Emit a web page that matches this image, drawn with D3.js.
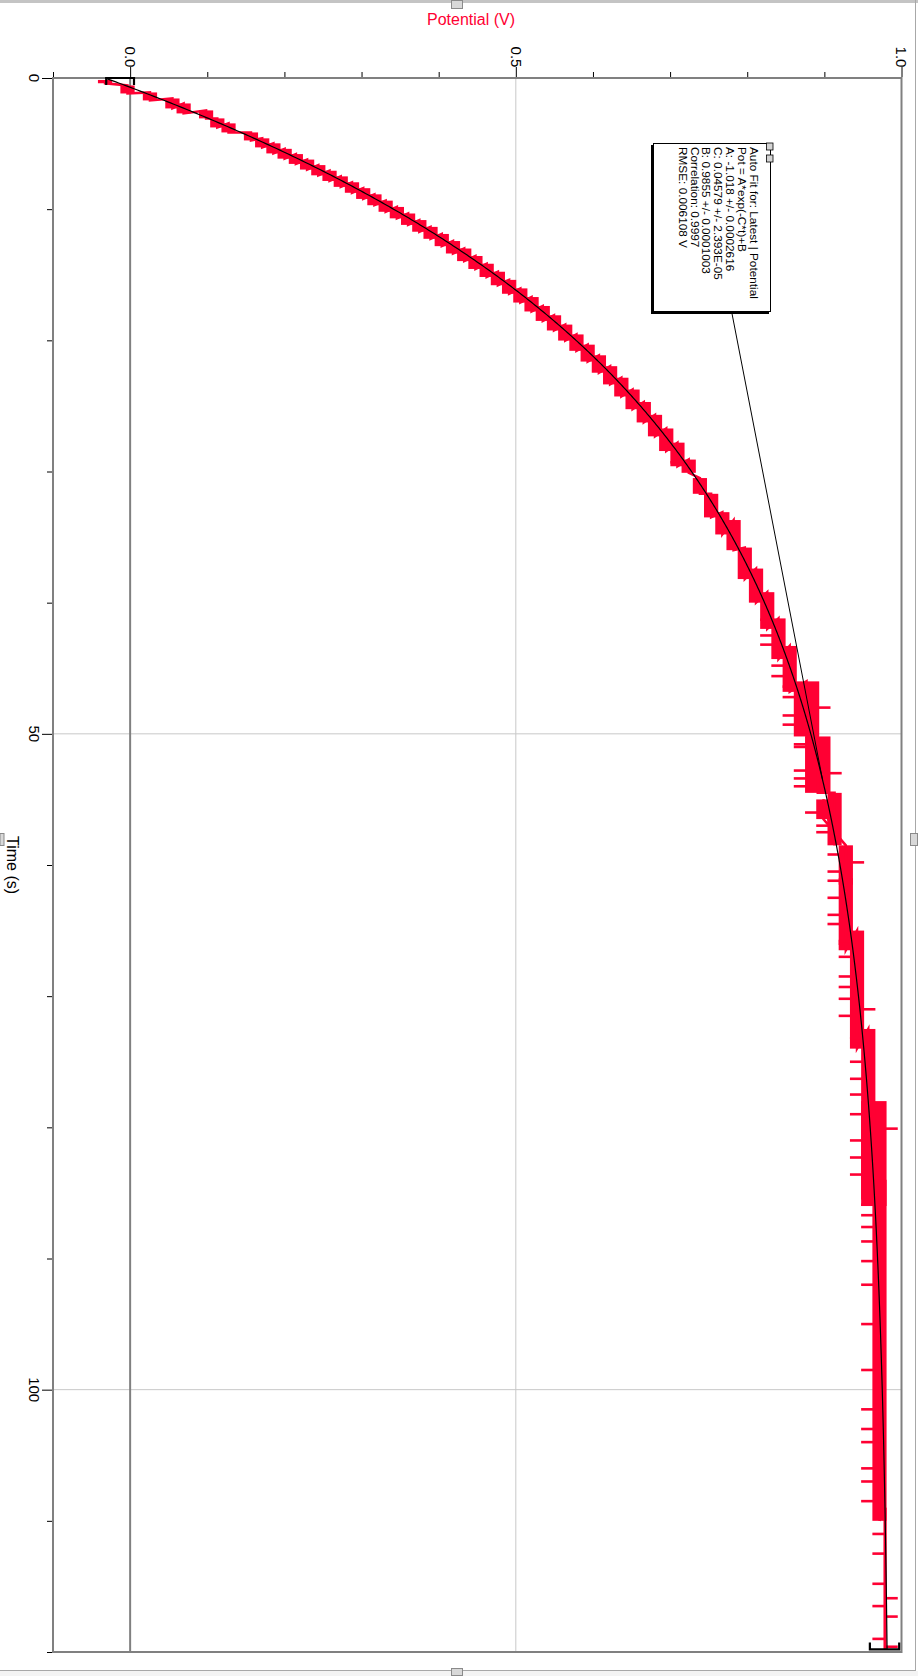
<!DOCTYPE html>
<html><head><meta charset="utf-8">
<script src="https://cdn.jsdelivr.net/npm/d3@7"></script>
<style>
body{margin:0;background:#fff}
svg{display:block}
text{font-family:"Liberation Sans",Arial,sans-serif}
</style></head>
<body><svg id="chart" width="918" height="1676"></svg>
<script>
// ---------------- data ----------------
const potentialTicks = [-0.1,0,0.1,0.2,0.3,0.4,0.5,0.6,0.7,0.8,0.9,1.0];
const potentialLabelValues = [0, 0.5, 1.0];
const potentialLabels = ["0.0", "0.5", "1.0"];
const timeTicks = [0,10,20,30,40,50,60,70,80,90,100,110,120];
const timeLabelValues = [0, 50, 100];
const timeLabels = ["0", "50", "100"];

// Recorded potential: quantised plateaus (time from, time to, low level, high level)
const blockStart = [0.15,0.57,1.10,1.56,1.94,2.47,3.08,3.46,4.15,4.60,4.98,5.40,5.80,6.22,6.64,7.07,7.50,7.95,8.40,8.87,9.35,9.83,10.33,10.83,11.35,11.89,12.43,13.00,13.57,14.16,14.77,15.39,16.04,16.70,17.38,18.09,18.80,19.55,20.33,21.14,21.97,22.85,23.75,24.70,25.68,26.72,27.80,29.09,30.50,31.70,33.10,33.70,35.80,37.40,39.20,41.20,43.30,46.00,50.20,54.50,55.00,58.50,61.00,65.00,72.50,78.00,84.00,109.0];
const blockEnd   = [0.40,1.18,1.71,2.32,2.70,3.08,3.77,4.15,4.76,5.29,5.75,6.15,6.55,6.98,7.42,7.85,8.30,8.75,9.22,9.70,10.20,10.70,11.20,11.72,12.26,12.82,13.38,13.96,14.56,15.17,15.80,16.45,17.12,17.80,18.52,19.25,20.02,20.80,21.62,22.47,23.36,24.28,25.25,26.26,27.32,28.44,29.60,30.10,31.70,33.50,34.80,36.00,38.20,40.00,42.00,44.30,46.80,50.20,54.50,58.50,56.50,61.50,66.50,74.00,85.50,86.00,110.0,119.8];
const blockLow   = [-0.0398,-0.0107,0.0184,0.0475,0.0621,0.0912,0.1057,0.1203,0.1494,0.1639,0.1785,0.1930,0.2076,0.2221,0.2367,0.2512,0.2658,0.2803,0.2949,0.3094,0.3240,0.3385,0.3531,0.3676,0.3822,0.3967,0.4113,0.4258,0.4404,0.4549,0.4695,0.4840,0.4986,0.5131,0.5277,0.5422,0.5568,0.5713,0.5859,0.6004,0.6150,0.6295,0.6441,0.6586,0.6732,0.6877,0.7023,0.7168,0.7314,0.7459,0.7605,0.7750,0.7896,0.8041,0.8187,0.8332,0.8478,0.8623,0.8769,0.9060,0.8914,0.9205,0.9205,0.9351,0.9496,0.9496,0.9642,0.9787];
const blockHigh  = [-0.0253,0.0039,0.0330,0.0621,0.0766,0.1057,0.1203,0.1348,0.1639,0.1785,0.1930,0.2076,0.2221,0.2367,0.2512,0.2658,0.2803,0.2949,0.3094,0.3240,0.3385,0.3531,0.3676,0.3822,0.3967,0.4113,0.4258,0.4404,0.4549,0.4695,0.4840,0.4986,0.5131,0.5277,0.5422,0.5568,0.5713,0.5859,0.6004,0.6150,0.6295,0.6441,0.6586,0.6732,0.6877,0.7023,0.7168,0.7314,0.7459,0.7605,0.7750,0.7896,0.8041,0.8187,0.8332,0.8478,0.8623,0.8914,0.9060,0.9205,0.9060,0.9351,0.9351,0.9496,0.9642,0.9787,0.9787,0.9787];

// Single-sample excursions (time, from level, to level)
const spikeT    = [29.3,41.3,42.5,43.2,44.8,45.6,46.4,47.2,48.0,48.6,49.3,50.8,51.0,52.8,53.0,53.4,54.0,56.0,57.0,57.5,59.2,59.8,60.5,61.2,62.5,63.8,64.5,65.8,66.0,67.0,68.5,69.3,70.2,71.0,71.5,73.2,75.0,76.3,77.5,79.0,80.1,81.0,82.3,83.6,85.9,86.7,87.6,88.7,90.2,92.0,95.0,98.5,101.5,103.0,104.0,106.0,107.0,108.5,111.0,112.5,114.8,115.9,116.5,117.3,119.0,119.6];
const spikeFrom = [0.7168,0.8332,0.8332,0.8332,0.8478,0.8478,0.8623,0.8623,0.8914,0.8623,0.8623,0.8769,0.8769,0.8769,0.9060,0.8769,0.8769,0.8914,0.9060,0.9060,0.9205,0.9351,0.9205,0.9205,0.9205,0.9205,0.9205,0.9351,0.9351,0.9351,0.9351,0.9351,0.9351,0.9496,0.9351,0.9496,0.9496,0.9496,0.9496,0.9496,0.9787,0.9496,0.9496,0.9496,0.9642,0.9642,0.9642,0.9642,0.9642,0.9642,0.9642,0.9642,0.9642,0.9642,0.9642,0.9642,0.9642,0.9642,0.9787,0.9787,0.9787,0.9787,0.9787,0.9787,0.9787,0.9787];
const spikeTo   = [0.7023,0.8187,0.8187,0.8187,0.8332,0.8332,0.8478,0.8478,0.9060,0.8478,0.8478,0.8623,0.8623,0.8623,0.9205,0.8623,0.8623,0.8769,0.8914,0.8914,0.9060,0.9496,0.9060,0.9060,0.9060,0.9060,0.9060,0.9205,0.9205,0.9205,0.9205,0.9205,0.9205,0.9642,0.9205,0.9351,0.9351,0.9351,0.9351,0.9351,0.9932,0.9351,0.9351,0.9351,0.9496,0.9496,0.9496,0.9496,0.9496,0.9496,0.9496,0.9496,0.9496,0.9496,0.9496,0.9496,0.9496,0.9496,0.9642,0.9642,0.9642,0.9932,0.9642,0.9932,0.9642,0.9932];

// Curve fit reported in the annotation: Pot = A*exp(-C*t)+B
const fitA = -1.018, fitB = 0.9855, fitC = 0.04579;
const fitRange = [0, 119.8];
const annotAnchorT = 53.5;
const annotLines = [
  "Auto Fit for: Latest | Potential",
  "Pot = A*exp(-C*t)+B",
  "A: -1.018 +/- 0.0002616",
  "C: 0.04579 +/- 2.393E-05",
  "B: 0.9855 +/- 0.0001003",
  "Correlation: 0.9997",
  "RMSE: 0.006108 V"
];
const annotBaselines = [749.5, 737.7, 725.9, 714.1, 702.3, 690.5, 678.7];

// ---------------- drawing ----------------
const svg = d3.select("#chart");
const red = "#ff0033";
const frame = {left: 53, right: 901.5, top: 78, bottom: 1652};
const x = d3.scaleLinear().domain([-0.1, 1.0]).range([frame.left, frame.right]);
const y = d3.scaleLinear().domain([0, 120]).range([frame.top, frame.bottom]);

// window chrome
svg.append("rect").attr("x",0).attr("y",0).attr("width",918).attr("height",3).attr("fill","#c4c4c4");
svg.append("line").attr("x1",915.5).attr("x2",915.5).attr("y1",0).attr("y2",1671).attr("stroke","#a8a8a8");
svg.append("line").attr("x1",0).attr("x2",916).attr("y1",1670.5).attr("y2",1670.5).attr("stroke","#a8a8a8");
svg.append("rect").attr("x",0).attr("y",1671).attr("width",918).attr("height",5).attr("fill","#f4f4f4");
[[451.5,0.5,11,8],[451.5,1668.5,11,7],[0,833.5,4,12],[910.5,833.5,7,12]].forEach(r=>{
  svg.append("rect").attr("x",r[0]).attr("y",r[1]).attr("width",r[2]).attr("height",r[3])
    .attr("fill","#d8d8d8").attr("stroke","#8a8a8a");
});

// grid lines
const g = svg.append("g");
g.append("line").attr("x1",x(0.5)).attr("x2",x(0.5)).attr("y1",frame.top).attr("y2",frame.bottom).attr("stroke","#c8c8c8");
[50,100].forEach(t=>g.append("line").attr("x1",frame.left).attr("x2",frame.right).attr("y1",y(t)).attr("y2",y(t)).attr("stroke","#c8c8c8"));
// zero line
g.append("line").attr("x1",x(0)).attr("x2",x(0)).attr("y1",frame.top).attr("y2",frame.bottom).attr("stroke","#808080").attr("stroke-width",2);

// frame
g.append("rect").attr("x",frame.left).attr("y",frame.top).attr("width",frame.right-frame.left).attr("height",frame.bottom-frame.top)
  .attr("fill","none").attr("stroke","#808080").attr("stroke-width",2);

// top axis (potential)
const topAxis = d3.axisTop(x).tickValues(potentialTicks).tickSize(5).tickFormat("");
const ta = svg.append("g").attr("transform",`translate(0,${frame.top-1})`).call(topAxis);
ta.select(".domain").remove();
ta.selectAll(".tick line").attr("stroke","#000").attr("y2", d => potentialLabelValues.includes(d) ? -10 : -5);
potentialLabelValues.forEach((v,i)=>{
  svg.append("text").attr("transform",`translate(${x(v)},57) rotate(90)`).attr("text-anchor","middle")
    .attr("dy","0.35em").attr("font-size",15).attr("fill","#000").text(potentialLabels[i]);
});

// left axis (time)
const leftAxis = d3.axisLeft(y).tickValues(timeTicks).tickSize(5).tickFormat("");
const la = svg.append("g").attr("transform",`translate(${frame.left-1},0)`).call(leftAxis);
la.select(".domain").remove();
la.selectAll(".tick line").attr("stroke","#000").attr("x2", d => timeLabelValues.includes(d) ? -10 : -5);
timeLabelValues.forEach((t,i)=>{
  svg.append("text").attr("transform",`translate(34,${y(t)}) rotate(90)`).attr("text-anchor","middle")
    .attr("dy","0.35em").attr("font-size",15).attr("fill","#000").text(timeLabels[i]);
});

// axis titles
svg.append("text").attr("x",471).attr("y",25).attr("text-anchor","middle").attr("font-size",16).attr("fill",red).text("Potential (V)");
svg.append("text").attr("transform",`translate(12.5,${(frame.top+frame.bottom)/2}) rotate(90)`).attr("text-anchor","middle")
  .attr("dy","0.35em").attr("font-size",16).attr("fill","#000").text("Time (s)");

// data
const blocks = blockStart.map((t0,i)=>({t0, t1: blockEnd[i], lo: blockLow[i], hi: blockHigh[i]}));
const dg = svg.append("g");
const pad = 1.5;
dg.selectAll("rect.blk").data(blocks).join("rect").attr("class","blk")
  .attr("x", d=>x(d.lo)-pad).attr("width", d=>x(d.hi)-x(d.lo)+2*pad)
  .attr("y", d=>y(d.t0)).attr("height", d=>Math.max(1.5, y(d.t1)-y(d.t0)))
  .attr("fill", red);
const trace = [];
blocks.slice().sort((a,b)=>a.t0-b.t0).forEach(b=>{ trace.push([b.t0,(b.lo+b.hi)/2]); trace.push([b.t1,(b.lo+b.hi)/2]); });
dg.append("path").datum(trace).attr("fill","none").attr("stroke",red).attr("stroke-width",2.5)
  .attr("d", d3.line().x(d=>x(d[1])).y(d=>y(d[0])));
const spikes = spikeT.map((t,i)=>({t, a: spikeFrom[i], b: spikeTo[i]}));
dg.selectAll("line.spk").data(spikes).join("line").attr("class","spk")
  .attr("x1", d=>x(d.a)).attr("x2", d=>x(d.b) + (d.b<d.a ? -1.5 : 1.5))
  .attr("y1", d=>y(d.t)).attr("y2", d=>y(d.t)).attr("stroke",red).attr("stroke-width",2.6);

// fit curve
const fitPts = d3.range(fitRange[0], fitRange[1]+0.001, 0.1).map(t=>[t, fitA*Math.exp(-fitC*t)+fitB]);
svg.append("path").datum(fitPts).attr("fill","none").attr("stroke","#000").attr("stroke-width",1.2)
  .attr("d", d3.line().x(d=>x(d[1])).y(d=>y(d[0])));

// fit range brackets
function bracket(t, v0, v1, dir){
  const yy = y(t);
  svg.append("path").attr("d",`M${x(v0)},${yy+7*dir} L${x(v0)},${yy} L${x(v1)},${yy} L${x(v1)},${yy+7*dir}`)
    .attr("fill","none").attr("stroke","#000").attr("stroke-width",2.2);
}
bracket(fitRange[0], -0.031, 0.005, 1);
bracket(fitRange[1], 0.959, 0.997, -1);

// annotation
const anchorV = fitA*Math.exp(-fitC*annotAnchorT)+fitB;
svg.append("line").attr("x1",731.7).attr("y1",312).attr("x2",x(anchorV)).attr("y2",y(annotAnchorT)).attr("stroke","#000").attr("stroke-width",1);
svg.append("rect").attr("x",651).attr("y",145).attr("width",118).attr("height",169).attr("fill","#000");
svg.append("rect").attr("x",653.5).attr("y",143.5).attr("width",117).attr("height",168).attr("fill","#fff").attr("stroke","#000");
[[766.5,143],[766.5,155]].forEach(p=>{
  svg.append("rect").attr("x",p[0]).attr("y",p[1]).attr("width",6.5).attr("height",7)
    .attr("fill","#d4d4d4").attr("stroke","#000").attr("stroke-width",0.8);
});
annotLines.forEach((s,i)=>{
  svg.append("text").attr("transform",`translate(${annotBaselines[i]},147) rotate(90)`).attr("font-size",11.8).attr("fill","#000").text(s);
});
</script></body></html>
